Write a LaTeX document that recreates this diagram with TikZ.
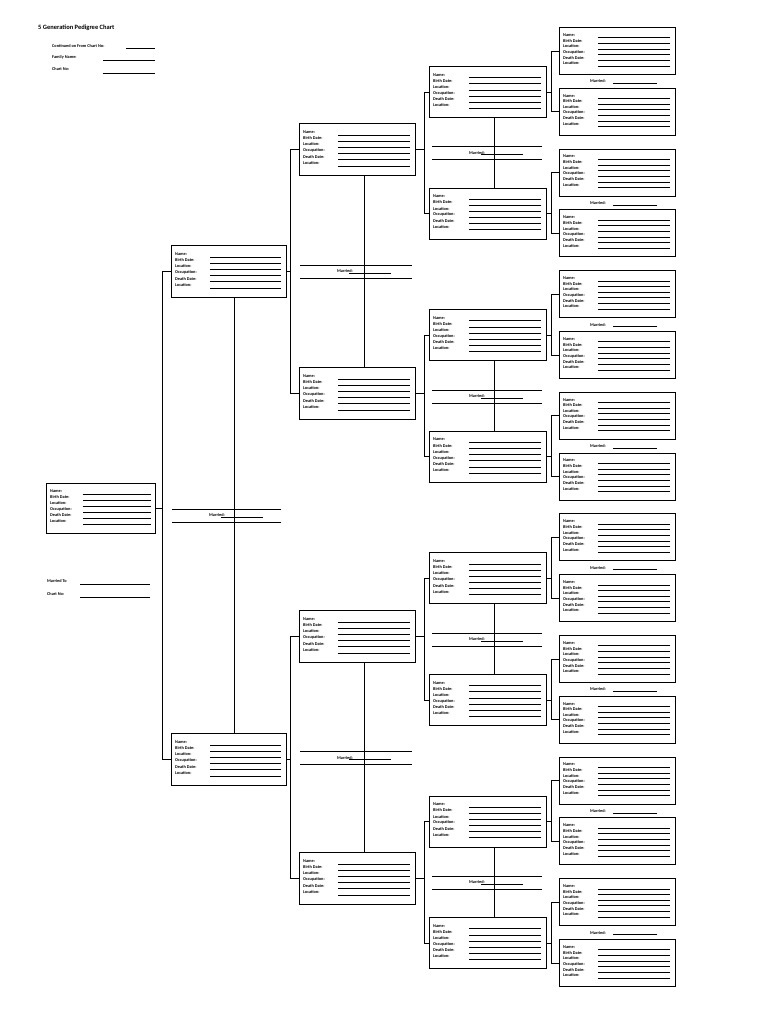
\documentclass[tikz,border=0pt]{standalone}
\usepackage{fontspec}
\setmainfont{Carlito}
\begin{document}
\begin{tikzpicture}[x=1pt,y=-1pt,
  pbox/.style={draw,line width=1pt,inner sep=0pt,anchor=north west},
  lab/.style={font=\bfseries\fontsize{4.3}{5}\selectfont,anchor=west,inner sep=0pt},
  fill/.style={line width=0.9pt},
  conn/.style={line width=0.9pt}]
\useasboundingbox (0,0) rectangle (768,1024);
\newcommand{\pbox}[5]{% name, x, y, w, h
  \node[pbox,minimum width=#4,minimum height=#5] (#1) at (#2,#3) {};
  \foreach \t [count=\i from 0] in {Name:,Birth Date:,Location:,Occupation:,Death Date:,Location:}{
    \node[lab] at ($(#1.north west)+(4,{#5*(0.17+0.12*\i)})$) {\t};
    \draw[fill] ($(#1.north west)+({#4*0.34},{#5*(0.23+0.12*\i)})$) -- ++({#4*0.62},0);
  }}
\usetikzlibrary{calc}
% header
\node[lab,font=\bfseries\fontsize{6.5}{8}\selectfont] (title) at (38,28) {5 Generation Pedigree Chart};
\node[lab] (h1) at (52,46) {Continued on From Chart No:};
\draw[fill] (126,48) -- (155,48);
\node[lab] (h2) at (52,57) {Family Name:};
\draw[fill] (103,60) -- (155,60);
\node[lab] (h3) at (52,69) {Chart No:};
\draw[fill] (103,73) -- (155,73);
\node[lab] (m1) at (47,581) {Married To};
\draw[fill] (80,584) -- (150,584);
\node[lab] (m2) at (47,594) {Chart No:};
\draw[fill] (80,597) -- (150,597);
% generation 1
\pbox{g1-0}{46}{483}{109}{50}
% generation 2
\pbox{g2-0}{171}{245}{115}{52}
\pbox{g2-1}{171}{733}{115}{52}
% generation 3
\foreach \k/\yy in {0/123,1/367,2/610,3/852}{\pbox{g3-\k}{299}{\yy}{116}{52}}
% generation 4
\foreach \k in {0,...,7}{\pbox{g4-\k}{429}{66+121.6*\k}{117}{51}}
% generation 5
\foreach \k in {0,...,15}{\pbox{g5-\k}{559}{27+60.8*\k}{116}{47}}
% brackets
\newcommand{\brk}[4]{% parent, childA, childB, bracket x
  \draw[conn] (#1.east) -- (#4,0 |- #1.east);
  \draw[conn] (#2.west) -| (#4,0 |- #2.west) |- (#3.west);}
\brk{g1-0}{g2-0}{g2-1}{162}
\brk{g2-0}{g3-0}{g3-1}{290}
\brk{g2-1}{g3-2}{g3-3}{290}
\foreach \p/\a/\b in {0/0/1,1/2/3,2/4/5,3/6/7}{\brk{g3-\p}{g4-\a}{g4-\b}{424}}
\foreach \p/\a/\b in {0/0/1,1/2/3,2/4/5,3/6/7,4/8/9,5/10/11,6/12/13,7/14/15}{\brk{g4-\p}{g5-\a}{g5-\b}{551}}
% married blocks with lines
\newcommand{\mar}[5]{% childA, childB, x left, x right, vertical x
  \path let \p1=(#1.center), \p2=(#2.center) in coordinate (mid) at (0,{(\y1+\y2)/2});
  \coordinate (up) at ($(#3,0 |- mid)+(0,7)$);
  \coordinate (lo) at ($(#3,0 |- mid)+(0,-6)$);
  \draw[conn] (up) -- (#4,0 |- up);
  \draw[conn] (lo) -- (#4,0 |- lo);
  \draw[conn] (#5,0 |- #1.south) -- (#5,0 |- up);
  \draw[conn] (#5,0 |- lo) -- (#5,0 |- #2.north);
  \node[lab] at ($(#3,0 |- mid)+(37,0)$) {Married:};
  \draw[fill] ($(#3,0 |- mid)+(49,2)$) -- ++(42,0);}
\mar{g2-0}{g2-1}{172}{281}{234}
\mar{g3-0}{g3-1}{300}{412}{364}
\mar{g3-2}{g3-3}{300}{412}{364}
\foreach \a/\b in {0/1,2/3,4/5,6/7}{\mar{g4-\a}{g4-\b}{432}{542}{494}}
% generation 5 married
\foreach \a/\b in {0/1,2/3,4/5,6/7,8/9,10/11,12/13,14/15}{
  \path (g5-\a.south west) -- (g5-\b.north west) coordinate[pos=0.5] (gm);
  \node[lab] at ($(gm)+(31,0)$) {Married:};
  \draw[fill] ($(gm)+(54,2)$) -- ++(44,0);}
\end{tikzpicture}
\end{document}
